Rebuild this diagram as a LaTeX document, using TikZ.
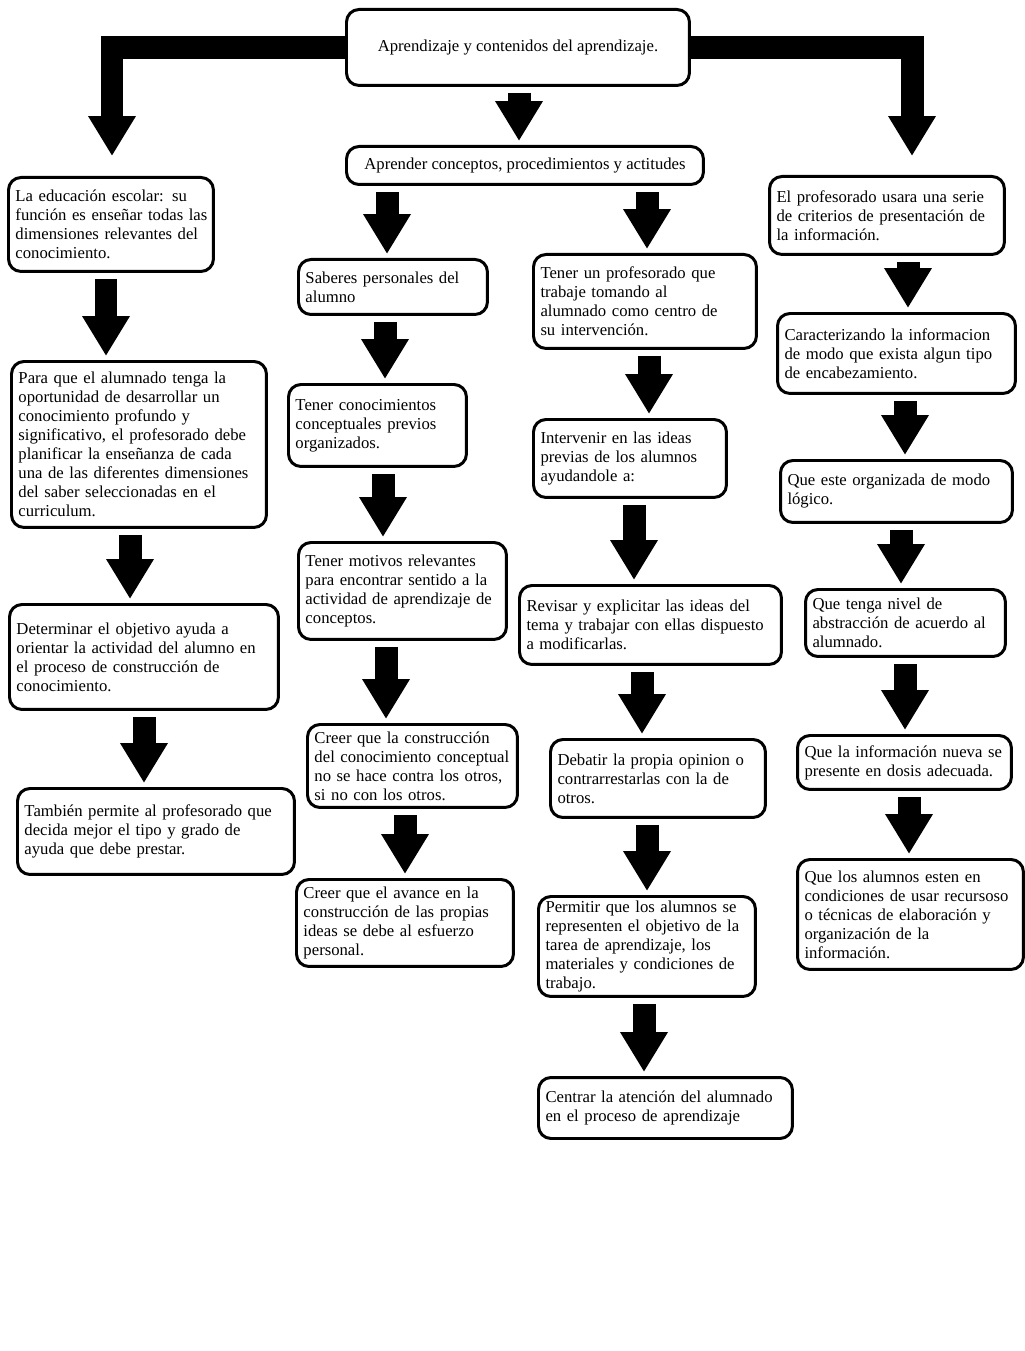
\documentclass[tikz,border=0pt]{standalone}
\usepackage{fontspec}
\setmainfont{Liberation Serif}
\usetikzlibrary{arrows.meta}
\begin{document}
\begin{tikzpicture}[x = 0.02cm,
                    y = -0.02cm,
                    box/.style = {draw, line width = 1.7pt, rounded corners = 0.25cm, anchor = north west,
                                  align = left, inner xsep = 0.14cm, inner ysep = 0.06cm,
                                  font = \fontsize{9.5}{10.8}\selectfont},
                    bigarrow/.style = {line width = 0.46cm, -{Triangle[width = 0.9cm, length = 0.8cm]},
                                       shorten < = 0.12cm, shorten > = 0.08cm}]

    \useasboundingbox (0,0) rectangle (1024,1351);

    % top
    \node[box, minimum width = 6.86cm, minimum height = 1.52cm, align = center] (TOP) at (345,8)
        {Aprendizaje y contenidos del aprendizaje.};
    \node[box, minimum width = 7.14cm, minimum height = 0.76cm, align = center] (MID) at (345,145)
        {Aprender conceptos, procedimientos y actitudes};

    % column 1
    \node[box, text width = 3.82cm, minimum height = 1.88cm] (A1) at (7,176)
        {La educación escolar: su\\\makebox[3.82cm][l]{función es enseñar todas las}\\dimensiones relevantes del\\conocimiento.};
    \node[box, text width = 4.82cm, minimum height = 3.32cm] (A2) at (10,360)
        {Para que el alumnado tenga la\\oportunidad de desarrollar un\\conocimiento profundo y\\significativo, el profesorado debe\\planificar la enseñanza de cada\\una de las diferentes dimensiones\\del saber seleccionadas en el\\curriculum.};
    \node[box, text width = 5.10cm, minimum height = 2.10cm] (A3) at (8,603)
        {Determinar el objetivo ayuda a\\orientar la actividad del alumno en\\el proceso de construcción de\\conocimiento.};
    \node[box, text width = 5.26cm, minimum height = 1.72cm] (A4) at (16,787)
        {También permite al profesorado que\\decida mejor el tipo y grado de\\ayuda que debe prestar.};

    % column 2
    \node[box, text width = 3.50cm, minimum height = 1.10cm] (B1) at (297,258)
        {Saberes personales del\\alumno};
    \node[box, text width = 3.28cm, minimum height = 1.64cm] (B2) at (287,383)
        {Tener conocimientos\\conceptuales previos\\organizados.};
    \node[box, text width = 3.88cm, minimum height = 1.94cm] (B3) at (297,541)
        {Tener motivos relevantes\\para encontrar sentido a la\\actividad de aprendizaje de\\conceptos.};
    \node[box, text width = 3.92cm, minimum height = 1.66cm] (B4) at (306,723)
        {Creer que la construcción\\del conocimiento conceptual\\no se hace contra los otros,\\si no con los otros.};
    \node[box, text width = 4.06cm, minimum height = 1.74cm] (B5) at (295,878)
        {Creer que el avance en la\\construcción de las propias\\ideas se debe al esfuerzo\\personal.};

    % column 3
    \node[box, text width = 4.18cm, minimum height = 1.88cm] (C1) at (532,253)
        {Tener un profesorado que\\trabaje tomando al\\alumnado como centro de\\su intervención.};
    \node[box, text width = 3.58cm, minimum height = 1.56cm] (C2) at (532,418)
        {Intervenir en las ideas\\previas de los alumnos\\ayudandole a:};
    \node[box, text width = 4.96cm, minimum height = 1.58cm] (C3) at (518,584)
        {Revisar y explicitar las ideas del\\tema y trabajar con ellas dispuesto\\a modificarlas.};
    \node[box, text width = 4.02cm, minimum height = 1.56cm] (C4) at (549,738)
        {Debatir la propia opinion o\\contrarrestarlas con la de\\otros.};
    \node[box, text width = 4.06cm, minimum height = 2.00cm] (C5) at (537,895)
        {Permitir que los alumnos se\\representen el objetivo de la\\tarea de aprendizaje, los\\materiales y condiciones de\\trabajo.};
    \node[box, text width = 4.80cm, minimum height = 1.22cm] (C6) at (537,1076)
        {Centrar la atención del alumnado\\en el proceso de aprendizaje};

    % column 4
    \node[box, text width = 4.42cm, minimum height = 1.56cm] (D1) at (768,175)
        {El profesorado usara una serie\\de criterios de presentación de\\la información.};
    \node[box, text width = 4.48cm, minimum height = 1.60cm] (D2) at (776,312)
        {Caracterizando la informacion\\de modo que exista algun tipo\\de encabezamiento.};
    \node[box, text width = 4.36cm, minimum height = 1.24cm] (D3) at (779,459)
        {Que este organizada de modo\\lógico.};
    \node[box, text width = 3.72cm, minimum height = 1.34cm] (D4) at (804,588)
        {Que tenga nivel de\\abstracción de acuerdo al\\alumnado.};
    \node[box, text width = 4.00cm, minimum height = 1.08cm] (D5) at (796,734)
        {Que la información nueva se\\presente en dosis adecuada.};
    \node[box, text width = 4.24cm, minimum height = 2.20cm] (D6) at (796,858)
        {Que los alumnos esten en\\condiciones de usar recursoso\\o técnicas de elaboración y\\organización de la\\información.};

    % corners of the side arrows
    \coordinate (AL) at (112,160);
    \coordinate (AR) at (912,160);

    \draw[bigarrow, shorten < = 0pt] (TOP.west) -| (AL);
    \draw[bigarrow, shorten < = 0pt] (TOP.east) -| (AR);

    \foreach \i/\j/\x in {TOP/MID/519,
                          MID/B1/387, MID/C1/647,
                          A1/A2/106, A2/A3/130, A3/A4/144,
                          B1/B2/385, B2/B3/383, B3/B4/386, B4/B5/405,
                          C1/C2/649, C2/C3/634, C3/C4/642, C4/C5/647, C5/C6/644,
                          D1/D2/908, D2/D3/905, D3/D4/901, D4/D5/905, D5/D6/909}
    {
        \draw[bigarrow] (\i.south -| \x,0) -- (\j.north -| \x,0);
    }
\end{tikzpicture}
\end{document}
